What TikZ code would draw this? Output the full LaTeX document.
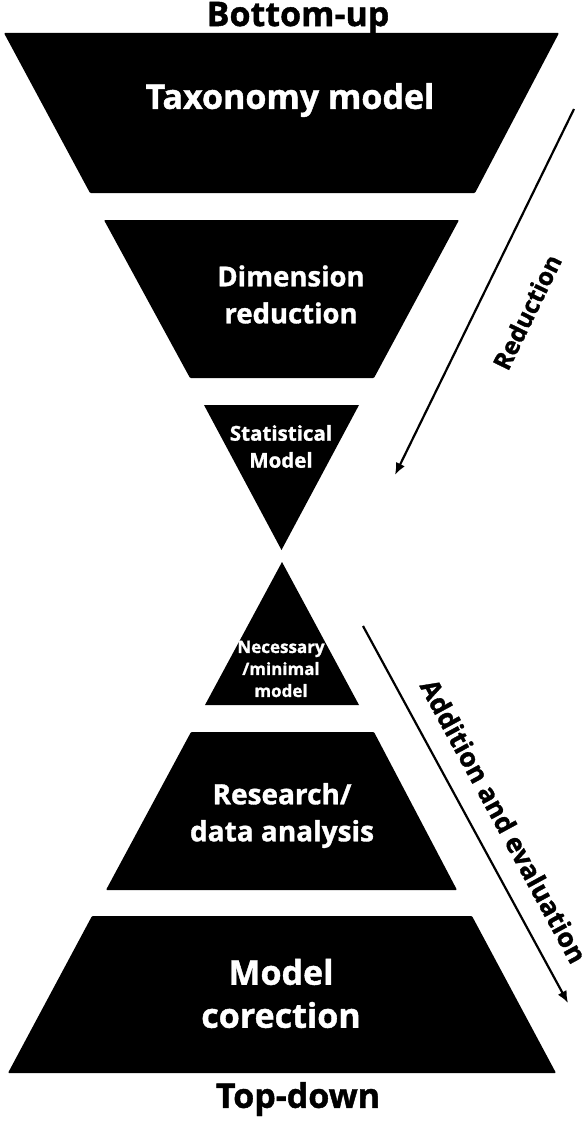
\documentclass[tikz,border=0pt]{standalone}
\usepackage{fontspec}
\setmainfont{Open Sans}[BoldFeatures={FakeBold=1.2}]
\usetikzlibrary{arrows.meta}

\begin{document}
\begin{tikzpicture}[x=1pt, y=-1pt,
		lbl/.style={text=white, align=center, inner sep=0pt},
		side/.style={line width=2.2pt, -{Latex[length=12pt, width=10pt]}}]
	\useasboundingbox (0,0) rectangle (587,1121);
	\foreach \n/\xa/\xb/\xc/\xd/\ya/\yb in {tax/4/559/475/90/33/193, dim/104/459/374/190/220/378, res/191/374/457/106/732/890, cor/92/472/556/8/916/1073} {
		\fill[rounded corners=1pt] (\xa,\ya) -- (\xb,\ya) -- (\xc,\yb) -- (\xd,\yb) -- cycle;
	}
	\fill (204,405) -- (359,405) -- (281.5,550) -- cycle;
	\fill (282,562) -- (359,705) -- (205,705) -- cycle;
	\node[font=\bfseries\fontsize{34}{40}\selectfont] (bottomup) at (298,18) {Bottom-up};
	\node[font=\bfseries\fontsize{34}{40}\selectfont] (topdown) at (298,1099) {Top-down};
	\node[lbl, font=\bfseries\fontsize{34}{40}\selectfont] (taxonomy) at (290,100) {Taxonomy model};
	\node[lbl, font=\bfseries\fontsize{27.5}{37}\selectfont] (dimension) at (291,294.5) {Dimension\\reduction};
	\node[lbl, font=\bfseries\fontsize{20.5}{27}\selectfont] (statistical) at (281,446.5) {Statistical\\Model};
	\node[lbl, font=\bfseries\fontsize{17}{22}\selectfont] (necessary) at (281,669) {Necessary\\/minimal\\model};
	\node[lbl, font=\bfseries\fontsize{28}{37}\selectfont] (research) at (282,815.5) {Research/\\data analysis};
	\node[lbl, font=\bfseries\fontsize{34}{43}\selectfont] (correction) at (281,993.5) {Model\\corection};
	\coordinate (redA) at (574,109);
	\coordinate (redB) at (395,475);
	\coordinate (addA) at (363,626);
	\coordinate (addB) at (568,1003);
	\draw[side] (redA) -- (redB);
	\draw[side] (addA) -- (addB);
	\node[rotate=64, font=\bfseries\fontsize{24.5}{30}\selectfont] (reduction) at (527,312) {Reduction};
	\node[rotate=-61.5, font=\bfseries\fontsize{26.5}{30}\selectfont] (addition) at (504,821) {Addition and evaluation};
\end{tikzpicture}
\end{document}
